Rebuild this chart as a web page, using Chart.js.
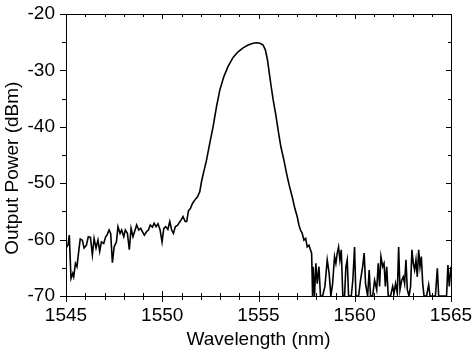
<!DOCTYPE html>
<html>
<head>
<meta charset="utf-8">
<script src="https://cdn.jsdelivr.net/npm/chart.js@4.4.0/dist/chart.umd.min.js"></script>
<style>
  html, body { margin: 0; padding: 0; background: #fff; }
  #wrap { width: 474px; height: 351px; }
</style>
</head>
<body>
<div id="wrap"><canvas id="myChart"></canvas></div>
<script>
// spectrum (nm, dBm)
let wavelength = [
  1545.00, 1545.10, 1545.17, 1545.26, 1545.35, 1545.40, 1545.49, 1545.57, 1545.66, 1545.74,
  1545.85, 1545.94, 1546.06, 1546.16, 1546.27, 1546.37, 1546.46, 1546.56, 1546.66, 1546.75,
  1546.84, 1546.96, 1547.06, 1547.13, 1547.24, 1547.32, 1547.41, 1547.50, 1547.62, 1547.70,
  1547.81, 1547.89, 1548.00, 1548.08, 1548.19, 1548.29, 1548.38, 1548.48, 1548.59, 1548.67,
  1548.78, 1548.88, 1548.97, 1549.07, 1549.18, 1549.28, 1549.38, 1549.49, 1549.58, 1549.68,
  1549.78, 1549.89, 1549.99, 1550.08, 1550.18, 1550.29, 1550.39, 1550.49, 1550.58, 1550.68,
  1550.79, 1550.88, 1550.98, 1551.08, 1551.19, 1551.27, 1551.36, 1551.46, 1551.57, 1551.69,
  1551.83, 1551.95, 1552.04, 1552.16, 1552.30, 1552.47, 1552.64, 1552.82, 1552.99, 1553.20,
  1553.42, 1553.68, 1553.94, 1554.20, 1554.46, 1554.72, 1554.90, 1555.07, 1555.24, 1555.36,
  1555.47, 1555.55, 1555.66, 1555.76, 1555.90, 1556.02, 1556.16, 1556.32, 1556.46, 1556.59,
  1556.75, 1556.89, 1557.01, 1557.10, 1557.18, 1557.27, 1557.36, 1557.45, 1557.53, 1557.62,
  1557.69, 1557.76, 1557.81, 1557.84, 1557.91, 1557.98, 1558.05, 1558.14, 1558.22, 1558.33,
  1558.45, 1558.57, 1558.67, 1558.76, 1558.85, 1558.95, 1559.02, 1559.09, 1559.16, 1559.23,
  1559.30, 1559.38, 1559.47, 1559.54, 1559.61, 1559.68, 1559.82, 1559.90, 1559.99, 1560.06,
  1560.20, 1560.30, 1560.41, 1560.49, 1560.56, 1560.67, 1560.75, 1560.82, 1560.93, 1561.03,
  1561.14, 1561.22, 1561.29, 1561.36, 1561.45, 1561.52, 1561.59, 1561.66, 1561.74, 1561.86,
  1561.97, 1562.04, 1562.12, 1562.21, 1562.28, 1562.35, 1562.44, 1562.52, 1562.59, 1562.66,
  1562.73, 1562.82, 1562.90, 1562.97, 1563.04, 1563.11, 1563.18, 1563.25, 1563.32, 1563.39,
  1563.46, 1563.53, 1563.60, 1563.73, 1563.84, 1563.91, 1564.08, 1564.19, 1564.29, 1564.36,
  1564.46, 1564.57, 1564.67, 1564.77, 1564.84, 1564.91, 1565.00
];
let power = [
  -61.5, -61.0, -59.2, -66.9, -66.0, -66.6, -64.2, -64.8, -62.1, -59.9,
  -60.1, -61.5, -61.0, -59.5, -59.6, -62.7, -59.8, -61.5, -60.1, -62.1,
  -60.4, -60.7, -59.5, -59.2, -58.3, -58.9, -64.1, -61.3, -60.4, -57.7,
  -58.9, -58.3, -59.5, -58.3, -58.9, -61.8, -58.0, -59.5, -58.3, -57.4,
  -58.3, -58.0, -58.6, -59.2, -58.6, -58.3, -57.4, -57.8, -57.1, -57.7,
  -57.2, -58.3, -60.4, -58.0, -57.7, -58.2, -56.8, -58.3, -58.9, -57.7,
  -57.5, -57.0, -56.5, -55.9, -56.8, -56.8, -54.9, -54.5, -53.6, -53.0,
  -52.4, -51.5, -49.7, -47.9, -45.9, -42.9, -40.0, -36.4, -33.5, -31.1,
  -29.3, -27.7, -26.7, -26.0, -25.5, -25.2, -25.1, -25.2, -25.5, -26.4,
  -28.2, -30.2, -32.9, -35.2, -37.9, -40.6, -43.5, -45.9, -48.3, -50.3,
  -52.4, -54.5, -55.9, -57.4, -58.3, -58.9, -60.1, -59.8, -61.3, -61.0,
  -61.7, -62.4, -70.0, -64.8, -70.0, -64.2, -67.8, -64.8, -70.0, -70.0,
  -68.3, -63.6, -66.0, -70.0, -67.8, -63.0, -64.2, -62.4, -61.3, -63.6,
  -61.8, -70.0, -70.0, -64.8, -63.6, -70.0, -70.0, -67.2, -61.3, -70.0,
  -70.0, -67.2, -64.8, -62.4, -67.8, -70.0, -65.4, -70.0, -70.0, -67.2,
  -68.9, -64.2, -68.3, -63.0, -64.8, -64.2, -68.3, -64.8, -70.0, -70.0,
  -68.3, -69.5, -67.8, -69.5, -61.3, -68.9, -67.2, -66.6, -67.8, -63.6,
  -68.9, -70.0, -68.3, -61.8, -64.2, -65.4, -63.6, -66.6, -61.8, -64.8,
  -63.0, -67.8, -70.0, -70.0, -68.0, -70.0, -70.0, -70.0, -65.1, -70.0,
  -70.0, -70.0, -70.0, -70.0, -64.5, -68.3, -64.8
];
let xTicks = [1545, 1550, 1555, 1560, 1565];
let yTicks = [-70, -60, -50, -40, -30, -20];

let points = wavelength.map(function (w, i) {
  return { x: w, y: power[i] };
});

// frame and the small ticks all round, the way the original plot has them
const frameTicks = {
  id: 'frameTicks',
  afterDraw(chart) {
    let ctx = chart.ctx;
    let a = chart.chartArea;
    let xs = chart.scales.x;
    let ys = chart.scales.y;
    ctx.save();
    ctx.strokeStyle = '#000';
    ctx.lineWidth = 1;
    ctx.beginPath();
    ctx.rect(a.left + 0.5, a.top + 0.5, a.right - a.left, a.bottom - a.top);
    for (let v = xs.min; v <= xs.max; v++) {
      let px = Math.round(xs.getPixelForValue(v)) + 0.5;
      let major = v % 5 == 0;
      ctx.moveTo(px, a.bottom - (major ? 5 : 3));
      ctx.lineTo(px, a.bottom + (major ? 6 : 4));
      ctx.moveTo(px, a.top);
      ctx.lineTo(px, a.top + (major ? 5 : 3));
    }
    for (let v = ys.min; v <= ys.max; v += 5) {
      let py = Math.round(ys.getPixelForValue(v)) + 0.5;
      let major = v % 10 == 0;
      ctx.moveTo(a.left - (major ? 6 : 4), py);
      ctx.lineTo(a.left, py);
      ctx.moveTo(a.right, py);
      ctx.lineTo(a.right - (major ? 5 : 3), py);
    }
    ctx.stroke();
    ctx.restore();
  }
};

// labels may hang over the edges, the layout should not make room for them
function noOverhang(scale) {
  scale.paddingTop = 0;
  scale.paddingBottom = 0;
  scale.paddingLeft = 0;
  scale.paddingRight = 0;
}

Chart.defaults.font.family = '"Liberation Sans", Arial, sans-serif';
Chart.defaults.font.size = 19;
Chart.defaults.color = '#000';

let ctx = document.getElementById('myChart');
let myChart = new Chart(ctx, {
  type: 'line',
  data: {
    datasets: [
      {
        label: 'Output power',
        data: points,
        borderColor: '#000',
        borderWidth: 1.6,
        pointRadius: 0,
        tension: 0,
        fill: false
      }
    ]
  },
  options: {
    responsive: true,
    maintainAspectRatio: false,
    animation: false,
    layout: {
      padding: { top: 14, right: 23, left: 0, bottom: 0 }
    },
    plugins: {
      legend: { display: false },
      tooltip: { enabled: false }
    },
    scales: {
      x: {
        type: 'linear',
        min: 1545,
        max: 1565,
        afterBuildTicks(scale) {
          scale.ticks = xTicks.map(v => ({ value: v }));
        },
        afterFit(scale) {
          scale.height = 55;
          noOverhang(scale);
        },
        ticks: {
          padding: 8,
          maxRotation: 0,
          callback: v => String(v)
        },
        grid: { display: false, drawTicks: false },
        border: { display: false },
        title: {
          display: true,
          text: 'Wavelength (nm)',
          padding: { top: 0, bottom: 0 }
        }
      },
      y: {
        type: 'linear',
        min: -70,
        max: -20,
        afterBuildTicks(scale) {
          scale.ticks = yTicks.map(v => ({ value: v }));
        },
        afterFit(scale) {
          scale.width = 66;
          noOverhang(scale);
        },
        ticks: {
          padding: 11
        },
        grid: { display: false, drawTicks: false },
        border: { display: false },
        title: {
          display: true,
          // trailing spaces push the title a little below the middle, as in the original
          text: 'Output Power (dBm)     ',
          padding: { top: 1, bottom: 0 }
        }
      }
    }
  },
  plugins: [frameTicks]
});
</script>
</body>
</html>
